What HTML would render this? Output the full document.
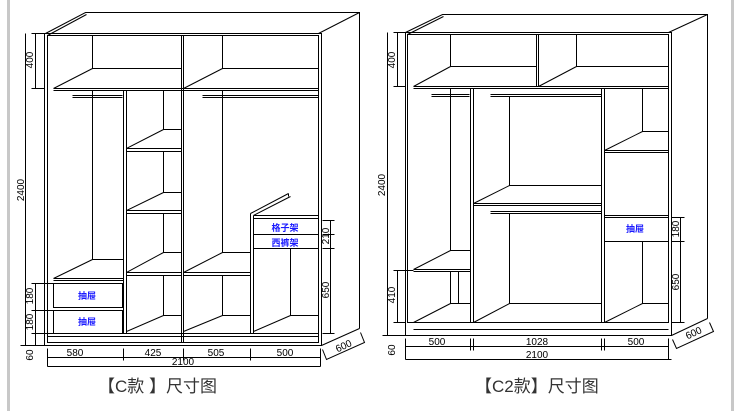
<!DOCTYPE html>
<html><head><meta charset="utf-8"><style>
html,body{margin:0;padding:0;background:#fff;width:740px;height:411px;overflow:hidden}
svg{display:block}
.t{font-family:"Liberation Sans",sans-serif;font-size:10px;fill:#000}
.b{font-family:"Liberation Sans","Noto Sans CJK SC",sans-serif;font-size:9px;fill:#1a1aff;font-weight:bold}
.h{font-family:"Liberation Sans","Noto Sans CJK SC",sans-serif;font-size:17px;fill:#333}
</style></head><body>
<svg width="740" height="411" viewBox="0 0 740 411" xmlns="http://www.w3.org/2000/svg">
<rect x="7" y="0" width="3" height="411" fill="#c8c8c8"/>
<rect x="731" y="0" width="3" height="411" fill="#c8c8c8"/>
<g stroke="#000" stroke-width="1" fill="none" transform="translate(0.5,0.5)">
<!-- ===== LEFT (C) ===== -->
<path d="M45 33 L85 12 L359 12 L359 328 M318 33 L359 12 M47 35 L86 14"/>
<rect x="44" y="33" width="277" height="312"/>
<rect x="47" y="35" width="271" height="307"/>
<path d="M181 35V342 M183 35V342"/>
<path d="M53 88H318 M53 90H318 M92 35V68H181 M92 68L53 88 M222 35V68H318 M222 68L183 88"/>
<path d="M72 95H122 M72 97H122 M202 95H318 M202 97H318"/>
<path d="M92 90V259 M123 90V333 M126 90V333 M92 259H123 M92 259L53 278 M53 278H123 M53 280H123"/>
<rect x="53" y="283" width="69" height="24"/>
<rect x="53" y="310" width="69" height="23"/>
<path d="M163 90V129H181 M163 129L126 148 M126 148H181 M126 151H181 M163 151V192H181 M163 192L126 210 M126 210H181 M126 213H181 M163 213V252H181 M163 252L126 272 M126 272H181 M126 275H181 M163 275V315H181 M163 315L126 331"/>
<path d="M222 90V252H250 M222 252L183 272 M183 272H250 M183 275H250 M222 275V315H250 M222 315L183 331"/>
<path d="M250 213V333 M253 215V333 M250 213L288 193 M253 215L290 196 M288 193V196 M253 215H318 M253 218H318 M253 234H318 M253 248H318 M290 248V315H318 M290 315L253 331"/>
<path d="M47 333H318 M47 336H318"/>
<path d="M321 345L359 328 M322 349L326 359L364 342L360 332"/>
<path d="M47 348V366 M123 348V360 M183 348V360 M250 348V360 M320 348V366 M47 357H320 M47 366H320"/>
<path d="M25 33V345 M20 345H44 M35 33V88 M31 33H44 M31 88H44 M35 283V345 M31 283H53 M31 310H53 M31 333H53"/>
<path d="M330 220V333 M322 220H334 M322 234H334 M322 248H334 M322 333H334"/>

<!-- ===== RIGHT (C2) ===== -->
<path d="M405 32L442 14L707 14L707 318 M668 32L707 14 M407 34L443 16"/>
<rect x="405" y="32" width="266" height="303"/>
<rect x="407" y="34" width="261" height="288"/>
<path d="M536 34V86 M538 34V86"/>
<path d="M413 86H668 M413 88H668 M450 34V66H536 M450 66L413 86 M576 34V66H668 M576 66L538 86"/>
<path d="M470 88V322 M473 88V322 M431 94H469 M431 96H469 M450 88V250H470 M450 250L413 269 M413 269H470 M413 271H470 M450 271V303 M458 271V303 M450 303H470 M450 303L413 322"/>
<path d="M490 94H601 M490 96H601 M509 96V185H601 M509 185L473 203 M473 203H601 M473 205H601 M490 211H601 M490 213H601 M509 213V303H601 M509 303L473 322"/>
<path d="M601 88V322 M604 88V322"/>
<path d="M642 88V131H668 M642 131L604 150 M604 150H668 M604 152H668 M604 215H668 M604 217H668 M604 241H668 M642 241V303H668 M642 303L604 322"/>
<path d="M413 322H668 M413 329H668"/>
<path d="M671 335L707 318 M672 339L676 348L713 331L709 322"/>
<path d="M405 338V359 M470 338V350 M473 338V350 M601 338V350 M604 338V350 M668 338V359 M405 346H668 M405 359H671"/>
<path d="M387 32V335 M382 335H405 M397 32V86 M393 32H405 M393 86H405 M397 270V322 M393 270H413 M393 322H405"/>
<path d="M680 217V322 M671 217H684 M671 241H684 M671 322H684"/>
</g>
<g class="t">
<text x="75" y="356" text-anchor="middle">580</text>
<text x="153" y="356" text-anchor="middle">425</text>
<text x="216" y="356" text-anchor="middle">505</text>
<text x="285" y="356" text-anchor="middle">500</text>
<text x="183" y="365" text-anchor="middle">2100</text>
<text transform="translate(33,60) rotate(-90)" text-anchor="middle">400</text>
<text transform="translate(24,190) rotate(-90)" text-anchor="middle">2400</text>
<text transform="translate(33,296) rotate(-90)" text-anchor="middle">180</text>
<text transform="translate(33,322) rotate(-90)" text-anchor="middle">180</text>
<text transform="translate(33,355) rotate(-90)" text-anchor="middle">60</text>
<text transform="translate(329,236) rotate(-90)" text-anchor="middle">210</text>
<text transform="translate(329,290) rotate(-90)" text-anchor="middle">650</text>
<text transform="translate(345,349) rotate(-25)" text-anchor="middle">600</text>
</g>
<g class="b">
<text x="87" y="299" text-anchor="middle">抽屉</text>
<text x="87" y="325" text-anchor="middle">抽屉</text>
<text x="285" y="231" text-anchor="middle">格子架</text>
<text x="285" y="246" text-anchor="middle">西裤架</text>
<text x="635" y="232" text-anchor="middle">抽屉</text>
</g>
<g class="t">
<text x="437" y="345" text-anchor="middle">500</text>
<text x="537" y="345" text-anchor="middle">1028</text>
<text x="636" y="345" text-anchor="middle">500</text>
<text x="537" y="358" text-anchor="middle">2100</text>
<text transform="translate(395,60) rotate(-90)" text-anchor="middle">400</text>
<text transform="translate(385,185) rotate(-90)" text-anchor="middle">2400</text>
<text transform="translate(395,295) rotate(-90)" text-anchor="middle">410</text>
<text transform="translate(395,350) rotate(-90)" text-anchor="middle">60</text>
<text transform="translate(679,229) rotate(-90)" text-anchor="middle">180</text>
<text transform="translate(679,282) rotate(-90)" text-anchor="middle">650</text>
<text transform="translate(695,336) rotate(-25)" text-anchor="middle">600</text>
</g>
<text class="h" x="98" y="392">【C款 】尺寸图</text>
<text class="h" x="475" y="392">【C2款】尺寸图</text>
</svg>
</body></html>
